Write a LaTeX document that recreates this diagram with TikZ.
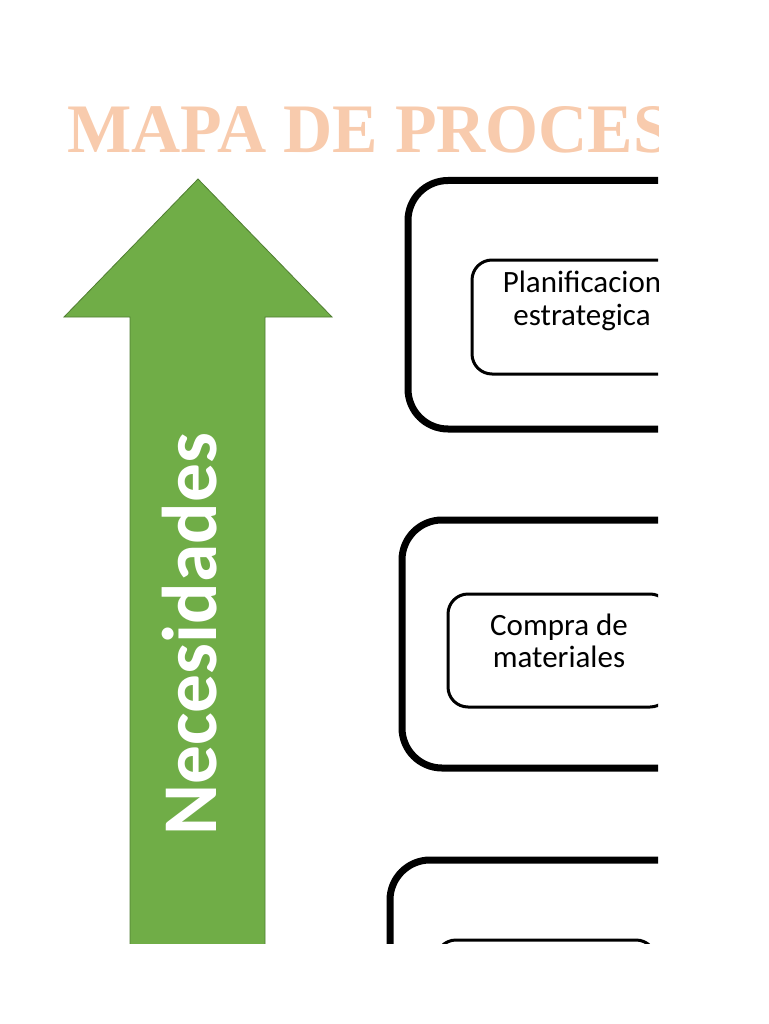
\documentclass[tikz,border=0pt]{standalone}
\usepackage{fontspec}
\setmainfont{Carlito}
\newfontfamily\titlefont{Liberation Serif}
\definecolor{titlepeach}{HTML}{F8CBAD}
\definecolor{arrowfill}{HTML}{70AD47}
\definecolor{arrowedge}{HTML}{507E32}
\begin{document}
\begin{tikzpicture}[x=1pt,y=-1pt,
  outerbox/.style={draw=black,line width=7pt,rounded corners=40pt},
  innerbox/.style={draw=black,line width=3pt,rounded corners=20pt},
  boxtext/.style={font=\fontsize{31}{32.5}\selectfont,align=center,inner sep=0pt},
  titletext/.style={font=\titlefont\bfseries\fontsize{69.5}{70}\selectfont,text=titlepeach,inner sep=0pt,xscale=0.98},
  needtext/.style={font=\bfseries\fontsize{77.5}{80}\selectfont,text=white,inner sep=0pt},
  arrowshape/.style={fill=arrowfill,draw=arrowedge,line width=0.8pt,line join=miter}]
\useasboundingbox (0,0) rectangle (768,1024);
\begin{scope}
\clip (0,0) rectangle (658,943);
\node[titletext,anchor=base west] (title) at (67,153) {MAPA DE PROCESOS};
\draw[arrowshape] (198,179) -- (332,317) -- (265,317) -- (265,960) -- (130,960) -- (130,317) -- (64,317) -- cycle;
\node[needtext,rotate=90,anchor=base west] (nec) at (216,836) {Necesidades};
\draw[outerbox] (408,180.5) rectangle (760,429);
\draw[innerbox] (472,260) rectangle (692,374);
\node[boxtext] (t1) at (582,301) {Planificacion\\estrategica};
\draw[outerbox] (402,520) rectangle (760,768);
\draw[innerbox] (448,594) rectangle (670,707);
\node[boxtext] (t2) at (559,641) {Compra de\\materiales};
\draw[outerbox] (390,860) rectangle (760,1100);
\draw[innerbox] (436,940) rectangle (656,1050);
\end{scope}
\end{tikzpicture}
\end{document}
